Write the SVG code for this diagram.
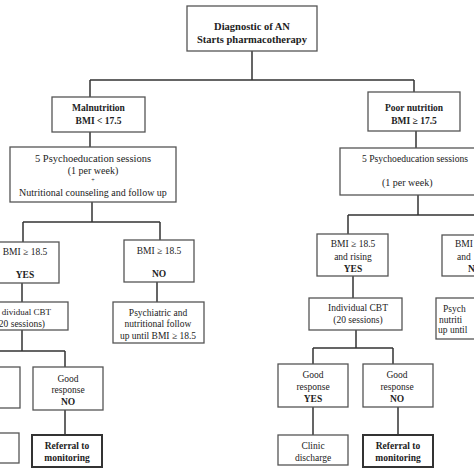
<svg xmlns="http://www.w3.org/2000/svg" width="474" height="474" viewBox="0 0 474 474">
<style>
.b{fill:#fff;stroke:#555;stroke-width:1.3}
.bt{fill:#fff;stroke:#333;stroke-width:2}
.c{fill:none;stroke:#333;stroke-width:1.5}
text{font-family:"Liberation Serif","Times New Roman",serif;font-size:9.5px;fill:#222;text-anchor:middle}
.k{font-weight:bold}
.l{font-size:10.5px}
.m{font-size:10px}
.s{text-anchor:start}
.e{text-anchor:end}
</style>
<rect width="474" height="474" fill="#fff"/>
<g id="connectors">
<path class="c" d="M252 51V80M90 80H414M90 80V97M414 80V92"/>
<path class="c" d="M90 132V147M416 131V148"/>
<path class="c" d="M92 202V222M23 222H160M23 222V242M160 222V240"/>
<path class="c" d="M22 283V302M157 282V302"/>
<path class="c" d="M22 330V351M-15 351H65M65 351V367M-15 351V367M65 410V435"/>
<path class="c" d="M418 195V215M348 215H480M348 215V234M353 276V298"/>
<path class="c" d="M356 330V348M313 348H393M313 348V364M393 348V364M313 407V435M398 407V435"/>
</g>
<g id="start"><rect class="b" x="187" y="6" width="130" height="45"/>
<text class="k l" x="252" y="30">Diagnostic of AN</text>
<text class="k l" x="252" y="43">Starts pharmacotherapy</text></g>
<g id="malnutrition"><rect class="b" x="52" y="97" width="93" height="35"/>
<text class="k" x="98.5" y="110.5">Malnutrition</text>
<text class="k" x="98.5" y="123.5">BMI &lt; 17.5</text></g>
<g id="poor"><rect class="b" x="368" y="92" width="92" height="39"/>
<text class="k" x="414" y="110.5">Poor nutrition</text>
<text class="k" x="414" y="123.5">BMI ≥ 17.5</text></g>
<g id="psy-left"><rect class="b" x="10" y="147" width="166" height="55"/>
<text class="l" x="93" y="162">5 Psychoeducation sessions</text>
<text class="m" x="93" y="173.5">(1 per week)</text>
<text x="93" y="182" style="font-size:6px">+</text>
<text class="m" x="93" y="196">Nutritional counseling and follow up</text></g>
<g id="psy-right"><rect class="b" x="340" y="148" width="160" height="47"/>
<text class="s" x="362" y="162" style="font-size:9.6px">5 Psychoeducation sessions</text>
<text class="m s" x="382" y="186">(1 per week)</text></g>
<g id="bmi-yes-left"><rect class="b" x="-9" y="242" width="68" height="41"/>
<text x="25" y="254.5">BMI ≥ 18.5</text>
<text class="k" x="25" y="278">YES</text></g>
<g id="bmi-no-left"><rect class="b" x="124" y="240" width="70" height="42"/>
<text x="159" y="253.5">BMI ≥ 18.5</text>
<text class="k" x="159" y="276.5">NO</text></g>
<g id="cbt-left"><rect class="b" x="-25" y="302" width="93" height="28"/>
<text class="e" x="51" y="314.5" style="font-size:9px">dividual CBT</text>
<text class="e" x="45" y="326.5">20 sessions)</text></g>
<g id="psych-left"><rect class="b" x="113" y="302" width="91" height="41"/>
<text x="158" y="315.5">Psychiatric and</text>
<text x="158" y="326.5">nutritional follow</text>
<text x="158" y="339">up until BMI ≥ 18.5</text></g>
<g id="good-yes-left"><rect class="b" x="-50" y="367" width="70" height="41"/></g>
<g id="good-no-left"><rect class="b" x="33" y="367" width="70" height="43"/>
<text x="68" y="381.5">Good</text>
<text x="68" y="392.5">response</text>
<text class="k" x="68" y="404.5">NO</text></g>
<g id="clinic-left"><rect class="b" x="-50" y="433" width="69" height="30"/></g>
<g id="referral-left"><rect class="bt" x="32" y="435" width="70" height="32"/>
<text class="k" x="67" y="448.5">Referral to</text>
<text class="k" x="67" y="460.5">monitoring</text></g>
<g id="bmi-yes-right"><rect class="b" x="317" y="234" width="71" height="42"/>
<text x="353" y="246.5">BMI ≥ 18.5</text>
<text x="353" y="259.5">and rising</text>
<text class="k" x="353" y="271.5">YES</text></g>
<g id="bmi-no-right"><rect class="b" x="442" y="235" width="80" height="41"/>
<text class="s" x="455" y="246.5">BMI</text>
<text class="s" x="457" y="259.5">and</text>
<text class="k s" x="468" y="271.5">N</text></g>
<g id="cbt-right"><rect class="b" x="309" y="298" width="93" height="32"/>
<text x="358" y="310.5">Individual CBT</text>
<text x="358" y="322.5">(20 sessions)</text></g>
<g id="psych-right"><rect class="b" x="436" y="298" width="84" height="41"/>
<text class="s" x="443" y="311.5">Psych</text>
<text class="s" x="439" y="322.5">nutriti</text>
<text class="s" x="438" y="333">up until</text></g>
<g id="good-yes-right"><rect class="b" x="278" y="364" width="70" height="43"/>
<text x="313" y="377.5">Good</text>
<text x="313" y="390">response</text>
<text class="k" x="313" y="401.5">YES</text></g>
<g id="good-no-right"><rect class="b" x="363" y="364" width="70" height="43"/>
<text x="397" y="377.5">Good</text>
<text x="397" y="390">response</text>
<text class="k" x="397" y="401.5">NO</text></g>
<g id="clinic-right"><rect class="b" x="278" y="435" width="70" height="30"/>
<text x="313" y="448.5">Clinic</text>
<text x="313" y="460.5">discharge</text></g>
<g id="referral-right"><rect class="bt" x="363" y="435" width="70" height="32"/>
<text class="k" x="398" y="448.5">Referral to</text>
<text class="k" x="398" y="460.5">monitoring</text></g>
</svg>
